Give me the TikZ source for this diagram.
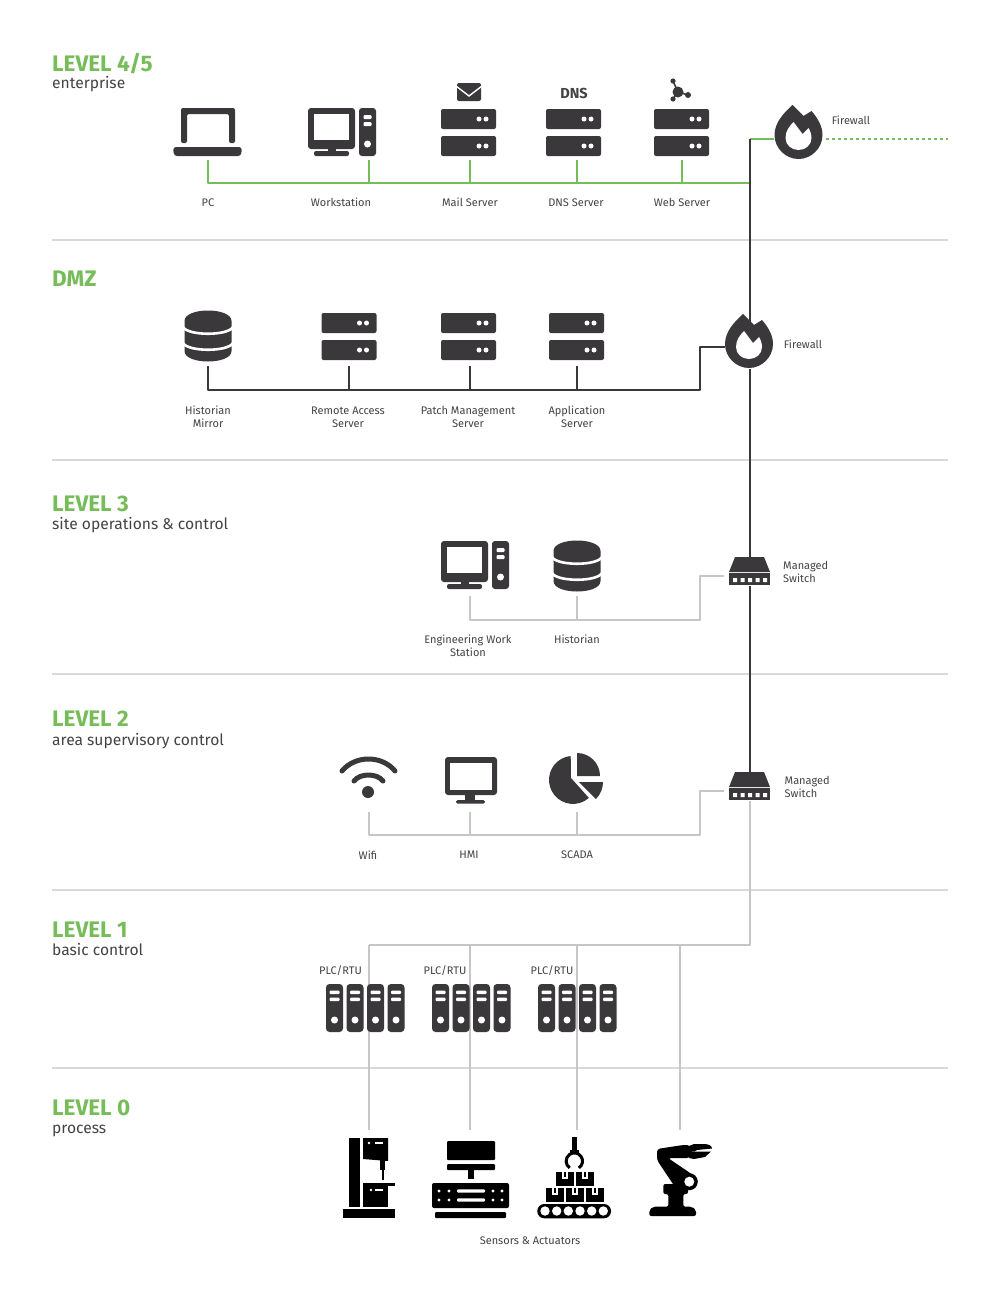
\documentclass[tikz,border=0pt]{standalone}
\usepackage{fontspec}
\setmainfont{Fira Sans}
\usetikzlibrary{positioning}

\definecolor{ink}{HTML}{3B383C}
\definecolor{leafgreen}{HTML}{76BD5A}
\definecolor{wiregrey}{HTML}{C6C6C6}
\definecolor{rulegrey}{HTML}{D9D9D9}
\definecolor{lblgrey}{HTML}{454245}

\tikzset{
  device/.style={inner sep=0pt,minimum width=40pt,minimum height=#1},
  device/.default=48pt,
  lbl/.style={inner sep=0pt,font=\fontsize{11}{13}\selectfont,text=lblgrey,align=center},
  leveltitle/.style={inner sep=0pt,anchor=base west,font=\fontsize{22.5}{24}\bfseries,text=leafgreen},
  levelsub/.style={inner sep=0pt,anchor=base west,font=\fontsize{15.6}{18}\selectfont,text=lblgrey},
  levelrule/.style={draw=rulegrey,line width=2pt},
  wire/.style={line width=2.2pt,line join=round,shorten <=4pt},
  greenwire/.style={wire,draw=leafgreen},
  darkwire/.style={wire,draw=ink},
  greywire/.style={wire,draw=wiregrey},
  pics/server/.style={code={
    \fill[ink,rounded corners=2pt] (-27.5,-23.5) rectangle (27.5,-3.5);
    \fill[ink,rounded corners=2pt] (-27.5,3.5) rectangle (27.5,23.5);
    \fill[white] (10.5,-13.5) circle[radius=2.5pt] (17.5,-13.5) circle[radius=2.5pt];
    \fill[white] (10.5,13.5) circle[radius=2.5pt] (17.5,13.5) circle[radius=2.5pt];
  }},
  pics/laptop/.style={code={
    \fill[ink,rounded corners=2pt] (-27,11) -- (-27,-24) -- (27,-24) -- (27,11) -- (21,11) -- (21,-18) -- (-21,-18) -- (-21,11) -- cycle;
    \fill[ink,rounded corners=3pt] (-35,15) -- (34,15) -- (33,24) -- (-34,24) -- cycle;
  }},
  pics/workstation/.style={code={
    \fill[ink,rounded corners=3pt] (-61,-24) rectangle (-14,17);
    \fill[white] (-55,-18) rectangle (-20,8);
    \fill[ink] (-41,17) rectangle (-33,20);
    \fill[ink,rounded corners=2pt] (-55,19) rectangle (-20,24);
    \fill[ink,rounded corners=3pt] (-10,-24) rectangle (7,24);
    \fill[white,rounded corners=1pt] (-5.5,-17) rectangle (2.5,-13);
    \fill[white,rounded corners=1pt] (-5.5,-10) rectangle (2.5,-6);
    \fill[white] (-1.5,12) circle[radius=3.5pt];
  }},
  pics/database/.style={code={
    \fill[ink] (-23.5,-15) .. controls (-23.5,-29) and (23.5,-29) .. (23.5,-15) -- (23.5,15) .. controls (23.5,29) and (-23.5,29) .. (-23.5,15) -- cycle;
    \draw[white,line width=2.6pt] (-25,-9) .. controls (-20,0) and (20,0) .. (25,-9);
    \draw[white,line width=2.6pt] (-25,7) .. controls (-20,16) and (20,16) .. (25,7);
  }},
  pics/envelope/.style={code={
    \fill[ink,rounded corners=2pt] (-12,-9) rectangle (12,9);
    \draw[white,line width=1.4pt] (-13,-6) -- (0,4) -- (13,-6);
  }},
  pics/molecule/.style={code={
    \draw[ink,line width=1.6pt] (-5,-11) -- (0,0) -- (10,3) (0,0) -- (-5,7);
    \fill[ink] (0,0) circle[radius=5.5pt] (-5,-11) circle[radius=2.6pt] (10,3) circle[radius=3pt] (-5,7) circle[radius=2.6pt];
  }},
  pics/firewall/.style={code={
    \fill[ink] (-6,-30) -- (5,-19) -- (13,-24) .. controls (20,-16) and (24,-8) .. (24,0) .. controls (24,13) and (13,24) .. (0,24) .. controls (-13,24) and (-24,13) .. (-24,0) .. controls (-24,-12) and (-15,-22) .. cycle;
    \fill[white] (-5,-13) -- (4,-1) -- (10,-7) .. controls (12,-4) and (13,0) .. (13,3) .. controls (13,10) and (7,15) .. (0,15) .. controls (-7,15) and (-13,10) .. (-13,3) .. controls (-13,-4) and (-9,-9) .. cycle;
  }},
  pics/switchbox/.style={code={
    \fill[ink] (-15,-19) -- (14,-19) -- (20,-4) -- (-21,-4) -- cycle;
    \fill[ink] (-21,-3) rectangle (20,9);
    \fill[white] (-17,2) rectangle (-13,6) (-9.5,2) rectangle (-5.5,6) (-2,2) rectangle (2,6) (5.5,2) rectangle (9.5,6) (13,2) rectangle (17,6);
  }},
  pics/wifi/.style={code={
    \fill[ink] (-1,12) circle[radius=6pt];
    \draw[ink,line width=5pt,line cap=round] (-15,1) .. controls (-9,-7) and (8,-7) .. (14,1);
    \draw[ink,line width=5pt,line cap=round] (-27,-9) .. controls (-14,-25) and (13,-25) .. (26,-9);
  }},
  pics/hmiscreen/.style={code={
    \fill[ink,rounded corners=3pt] (-25,-23) rectangle (27,15);
    \fill[white] (-20,-17) rectangle (22,10);
    \fill[ink] (-5,15) rectangle (5,20);
    \fill[ink,rounded corners=1.5pt] (-14,20) rectangle (15,23.5);
  }},
  pics/piechart/.style={code={
    \fill[ink] (-6,-2) -- (-6.3,-24) arc[start angle=95.5,end angle=311.4,radius=24pt] -- cycle;
    \fill[ink] (0,-4) -- (0,-27) arc[start angle=90,end angle=0,radius=23pt] -- cycle;
    \fill[ink] (2,2) -- (26,2) arc[start angle=0,end angle=-45,radius=24pt] -- cycle;
  }},
  pics/plcmodule/.style={code={
    \fill[ink,rounded corners=3.5pt] (0,-24) rectangle (17,24);
    \fill[white,rounded corners=1pt] (3.5,-17.5) rectangle (13.5,-14);
    \fill[white,rounded corners=1pt] (3.5,-10.5) rectangle (13.5,-7);
    \fill[white] (8.5,12) circle[radius=3.5pt];
  }},
  pics/plcrack/.style={code={
    \pic at (-39.5,0) {plcmodule};
    \pic at (-19,0) {plcmodule};
    \pic at (1.5,0) {plcmodule};
    \pic at (22,0) {plcmodule};
  }},
  pics/mill/.style={code={
    \fill[black] (-26,31) rectangle (26,40);
    \fill[black] (-20,-40) rectangle (-9,29);
    \fill[black] (-6,-40) -- (19,-40) -- (19,-17) -- (-6,-19) -- cycle;
    \fill[black] (11,-18) rectangle (16,-8);
    \fill[black] (12.5,-8) rectangle (14.5,2);
    \fill[black] (-6,5) rectangle (19,29);
    \fill[black] (-6,5) rectangle (26,8);
    \fill[white] (0,-35) circle[radius=1.3pt] (2,12) circle[radius=1.3pt];
    \fill[white] (6,-36) rectangle (14,-34);
    \fill[white] (6,11) rectangle (14,13);
  }},
  pics/press/.style={code={
    \fill[black,rounded corners=1pt] (-23,-37) rectangle (25,-18);
    \fill[black,rounded corners=1pt] (-23,-14) rectangle (25,-8);
    \fill[black] (-2,-8) rectangle (4,1);
    \fill[black,rounded corners=2pt] (-38,5) rectangle (39,30);
    \fill[black,rounded corners=1pt] (-35,34) rectangle (36,40);
    \fill[white] (-31,13) circle[radius=1.7pt] (-21,13) circle[radius=1.7pt] (23,13) circle[radius=1.7pt] (32,13) circle[radius=1.7pt];
    \fill[white] (-31,22) circle[radius=1.7pt] (-21,22) circle[radius=1.7pt] (23,22) circle[radius=1.7pt] (32,22) circle[radius=1.7pt];
    \fill[white,rounded corners=1pt] (-13,11.3) rectangle (15,14.7);
    \fill[white,rounded corners=1pt] (-13,20.3) rectangle (15,23.7);
  }},
  pics/crate/.style={code={
    \fill[black] (-9.2,0) rectangle (9.2,14);
    \fill[white] (-3.3,0) rectangle (3.3,7);
    \fill[black] (-1,0) rectangle (1,4.5);
  }},
  pics/palletizer/.style={code={
    \fill[black] (-4.7,-41.3) rectangle (-0.3,-28);
    \fill[black] (-7,-28) rectangle (2,-25);
    \draw[black,line width=3pt] (1.9,-10.1) arc[start angle=-56,end angle=236,radius=8.2pt];
    \fill[white] (-2.7,-9) circle[radius=2.6pt];
    \pic at (-11.9,-5.7) {crate};
    \pic at (8,-5.7) {crate};
    \pic at (-21.9,10) {crate};
    \pic at (-2,10) {crate};
    \pic at (17.9,10) {crate};
    \fill[black,rounded corners=7pt] (-39.7,26) rectangle (34,40.3);
    \fill[white] (-32,33) circle[radius=4.7pt] (-20.3,33) circle[radius=4.7pt] (-8.7,33) circle[radius=4.7pt];
    \fill[white] (3,33) circle[radius=4.7pt] (14.7,33) circle[radius=4.7pt] (26.3,33) circle[radius=4.7pt];
  }},
  pics/robotarm/.style={code={
    \fill[black,rounded corners=2pt] (-30.7,38) -- (-30.7,32) -- (-27,28.7) -- (-11.7,28.7) -- (-11.7,16) -- (-16.7,16) -- (-16.7,6) -- (8,6) -- (8,16) -- (3.3,16) -- (3.3,28.7) -- (12,28.7) -- (16,32) -- (16,38) -- cycle;
    \fill[black,rounded corners=3pt] (-23,-29) -- (3,-33) -- (10,-33) -- (10,-20) -- (-12,-20) -- (16,-1) -- (10,12) -- (-5,9) -- (-23,-18) -- cycle;
    \fill[black] (9.3,3.7) circle[radius=8.5pt];
    \fill[white] (9.3,3.7) circle[radius=5pt];
    \fill[black] (9,-32) -- (14,-34) -- (24,-34) .. controls (29,-34) and (32,-32) .. (32,-29.5) -- (17,-28) -- (15,-27) -- (9,-27) -- cycle;
    \fill[black] (9,-27) -- (15,-26.5) -- (31,-26.5) -- (25,-21) -- (14,-19) -- (9,-20) -- cycle;
  }},
}

\begin{document}
\begin{tikzpicture}[x=1pt,y=-1pt,on grid]
  \path[fill=white,use as bounding box] (0,0) rectangle (1000,1299);

  \path
  node[leveltitle] (title_45) at (52,71) {LEVEL 4/5}
  node[levelsub] (sub_45) at (52,88) {enterprise}
  node[leveltitle] (title_dmz) at (52,286) {DMZ}
  node[leveltitle] (title_3) at (52,511) {LEVEL 3}
  node[levelsub] (sub_3) at (52,529) {site operations \& control}
  node[leveltitle] (title_2) at (52,726) {LEVEL 2}
  node[levelsub] (sub_2) at (52,745) {area supervisory control}
  node[leveltitle] (title_1) at (52,937) {LEVEL 1}
  node[levelsub] (sub_1) at (52,955) {basic control}
  node[leveltitle] (title_0) at (52,1115) {LEVEL 0}
  node[levelsub] (sub_0) at (52,1133) {process}
  ;

  \draw[levelrule] (52,240) -- (948,240);
  \draw[levelrule] (52,460) -- (948,460);
  \draw[levelrule] (52,674) -- (948,674);
  \draw[levelrule] (52,890) -- (948,890);
  \draw[levelrule] (52,1068) -- (948,1068);

  \path
  node[device] (pc) at (208,132) {}
  node[device, right=161pt of pc] (ws) {}
  node[device, right=101pt of ws] (mail) {}
  node[device, right=107pt of mail] (dns) {}
  node[device, right=105pt of dns] (web) {}
  node[device=40pt, minimum width=47pt] (fw_1) at (798,139) {}
  node[device=52pt] (hist_1) at (208,336) {}
  node[device=52pt, right=141pt of hist_1] (remote) {}
  node[device=52pt, right=121pt of remote] (patch) {}
  node[device=52pt, right=107pt of patch] (app) {}
  node[device=44pt, minimum width=50pt] (fw_2) at (750,347) {}
  node[device=52pt] (eng) at (470,566) {}
  node[device=52pt, right=107pt of eng] (hist_2) {}
  node[device=20pt] (sw_1) at (750,576) {}
  node[device=56pt] (wifi) at (369,780) {}
  node[device=56pt, right=101pt of wifi] (hmi) {}
  node[device=56pt, right=107pt of hmi] (scada) {}
  node[device=20pt] (sw_2) at (750,791) {}
  node[device] (plc_1) at (365.5,1008) {}
  node[device] (plc_2) at (471.5,1008) {}
  node[device] (plc_3) at (577.5,1008) {}
  node[device=88pt] (mill_1) at (369,1178) {}
  node[device=88pt, right=101pt of mill_1] (press_1) {}
  node[device=88pt, right=107pt of press_1] (pack_1) {}
  node[device=88pt, right=103pt of pack_1] (robot_1) {}
  ;

  \coordinate (ent_bus) at (750,183);
  \coordinate (trunk) at (750,139);
  \coordinate (fw_out) at (948,139);
  \coordinate (dmz_bus) at (700,390);
  \coordinate (l3_bus) at (700,620);
  \coordinate (l2_bus) at (700,835);
  \coordinate (l1_bus) at (369,945);

  \draw[greenwire] (pc.south) |- (ent_bus);
  \path[greenwire]
  (ws.south) edge (ws.south |- ent_bus)
  (mail.south) edge (mail.south |- ent_bus)
  (dns.south) edge (dns.south |- ent_bus)
  (web.south) edge (web.south |- ent_bus)
  ;
  \draw[greenwire,shorten <=0pt] (fw_1.west) -- (trunk);
  \draw[greenwire,dash pattern=on 3pt off 3pt] (fw_1.east) -- (fw_out);

  \draw[darkwire] (hist_1.south) |- (dmz_bus) |- (fw_2.west);
  \path[darkwire]
  (remote.south) edge (remote.south |- dmz_bus)
  (patch.south) edge (patch.south |- dmz_bus)
  (app.south) edge (app.south |- dmz_bus)
  ;
  \path[darkwire,shorten <=0pt]
  (trunk) edge (fw_2.north)
  (fw_2.south) edge (sw_1.north)
  (sw_1.south) edge (sw_2.north)
  ;

  \draw[greywire,shorten >=6pt] (eng.south) |- (l3_bus) |- (sw_1.west);
  \path[greywire] (hist_2.south) edge (hist_2.south |- l3_bus);
  \draw[greywire,shorten >=6pt] (wifi.south) |- (l2_bus) |- (sw_2.west);
  \path[greywire]
  (hmi.south) edge (hmi.south |- l2_bus)
  (scada.south) edge (scada.south |- l2_bus)
  ;
  \draw[greywire,shorten <=0pt] (sw_2.south) |- (l1_bus);
  \path[greywire]
  (mill_1.north) edge (mill_1.north |- l1_bus)
  (press_1.north) edge (press_1.north |- l1_bus)
  (pack_1.north) edge (pack_1.north |- l1_bus)
  (robot_1.north) edge (robot_1.north |- l1_bus)
  ;

  \pic at (pc) {laptop};
  \pic at (ws) {workstation};
  \pic[xshift=-1.5pt,yshift=-0.5pt] at (mail) {server};
  \pic[xshift=-3.5pt,yshift=-0.5pt] at (dns) {server};
  \pic[xshift=-0.5pt,yshift=-0.5pt] at (web) {server};
  \pic at (469,92) {envelope};
  \pic at (678,92) {molecule};
  \pic[xshift=0.5pt,yshift=4pt] at (fw_1) {firewall};

  \pic at (hist_1) {database};
  \pic[yshift=-0.5pt] at (remote) {server};
  \pic[xshift=-1.5pt,yshift=-0.5pt] at (patch) {server};
  \pic[xshift=-0.5pt,yshift=-0.5pt] at (app) {server};
  \pic[xshift=-1pt,yshift=3pt] at (fw_2) {firewall};

  \pic[xshift=32pt,yshift=1pt] at (eng) {workstation};
  \pic at (hist_2) {database};
  \pic at (sw_1) {switchbox};

  \pic at (wifi) {wifi};
  \pic at (hmi) {hmiscreen};
  \pic at (scada) {piechart};
  \pic at (sw_2) {switchbox};

  \pic at (plc_1) {plcrack};
  \pic at (plc_2) {plcrack};
  \pic at (plc_3) {plcrack};

  \pic at (mill_1) {mill};
  \pic at (press_1) {press};
  \pic at (pack_1) {palletizer};
  \pic at (robot_1) {robotarm};

  \path
  node[lbl] (pc_lbl) at (208,202.5) {PC}
  node[lbl] (ws_lbl) at (341,202) {Workstation}
  node[lbl] (mail_lbl) at (470,202) {Mail Server}
  node[lbl] (dns_lbl) at (576,202.5) {DNS Server}
  node[lbl] (web_lbl) at (682,202) {Web Server}
  node[lbl,font=\fontsize{14.5}{16}\bfseries] (dns_tag) at (574,93) {DNS}
  node[lbl] (fw1_lbl) at (851,120) {Firewall}
  node[lbl] (hist1_lbl) at (208,416.5) {Historian\\Mirror}
  node[lbl] (remote_lbl) at (348,417) {Remote Access\\Server}
  node[lbl] (patch_lbl) at (468,416.5) {Patch Management\\Server}
  node[lbl] (app_lbl) at (577,416.5) {Application\\Server}
  node[lbl] (fw2_lbl) at (803,344) {Firewall}
  node[lbl] (eng_lbl) at (468,645.5) {Engineering Work\\Station}
  node[lbl] (hist2_lbl) at (577,639) {Historian}
  node[lbl,anchor=west,align=left] (sw1_lbl) at (783,572) {Managed\\Switch}
  node[lbl,anchor=west,align=left] (sw2_lbl) at (784.5,787) {Managed\\Switch}
  node[lbl] (wifi_lbl) at (368,855) {Wifi}
  node[lbl] (hmi_lbl) at (469,855) {HMI}
  node[lbl] (scada_lbl) at (577,855) {SCADA}
  node[lbl] (plc1_lbl) at (340.5,971) {PLC/RTU}
  node[lbl] (plc2_lbl) at (445,971) {PLC/RTU}
  node[lbl] (plc3_lbl) at (552,971) {PLC/RTU}
  node[lbl] (field_lbl) at (530,1241) {Sensors \& Actuators}
  ;
\end{tikzpicture}
\end{document}
